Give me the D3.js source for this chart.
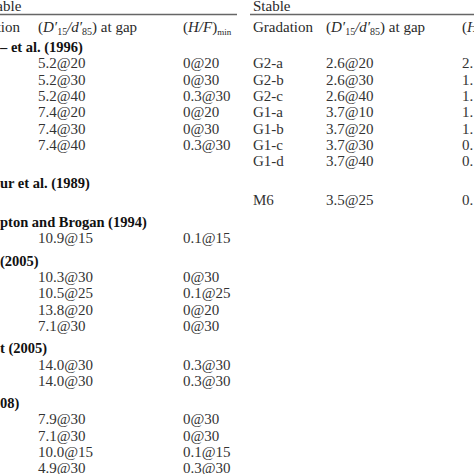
<!DOCTYPE html>
<html><head><meta charset="utf-8">
<script src="https://cdn.jsdelivr.net/npm/d3@7"></script>
<style>body{margin:0;background:#fff}</style></head>
<body><svg id="c" width="474" height="474"></svg>
<script>
const rowKinds   = ["h","r","r","r","r","r","r","r","h","r","h","r","h","r","r","r","r","h","r","r","h","r","r","r","r"];
const headings   = ["– et al. (1996)","ur et al. (1989)","pton and Brogan (1994)","(2005)","t (2005)","08)"];
const leftVals   = ["5.2@20","5.2@30","5.2@40","7.4@20","7.4@30","7.4@40","","","10.9@15","10.3@30","10.5@25","13.8@20","7.1@30","14.0@30","14.0@30","7.9@30","7.1@30","10.0@15","4.9@30"];
const leftHF     = ["0@20","0@30","0.3@30","0@20","0@30","0.3@30","","","0.1@15","0@30","0.1@25","0@20","0@30","0.3@30","0.3@30","0@30","0@30","0.1@15","0.3@30"];
const rightGrad  = ["G2-a","G2-b","G2-c","G1-a","G1-b","G1-c","G1-d","M6"];
const rightVals  = ["2.6@20","2.6@30","2.6@40","3.7@10","3.7@20","3.7@30","3.7@40","3.5@25"];
const rightHF    = ["2.","1.","1.","1.","1.","0.","0.","0."];

const svg = d3.select("#c");
const font = "'Liberation Serif','Times New Roman',serif";
const col = "#2a2a2a";
const FS = 15;

let pos = [], acc = 0;
rowKinds.forEach((k,i)=>{ if(i>0){ acc += 1; if(k==="h") acc += 0.37; } pos.push(acc); });
const y = d3.scaleLinear().domain([0,1]).range([47,63.3]);

svg.append("text").attr("x",-32).attr("y",11).attr("font-family",font).attr("font-size",FS).attr("fill",col).text("Unstable");
svg.append("text").attr("x",253).attr("y",11).attr("font-family",font).attr("font-size",FS).attr("fill",col).text("Stable");
svg.append("line").attr("x1",0).attr("x2",237).attr("y1",14.5).attr("y2",14.5).attr("stroke","#666").attr("stroke-width",1.3);
svg.append("line").attr("x1",250).attr("x2",474).attr("y1",14.5).attr("y2",14.5).attr("stroke","#666").attr("stroke-width",1.3);

function header(x){
  return svg.append("text").attr("x",x).attr("y",32).attr("font-family",font).attr("font-size",FS).attr("fill",col);
}
function dHeader(x){
  const t = header(x);
  t.append("tspan").text("(");
  t.append("tspan").attr("font-style","italic").text("D′");
  t.append("tspan").attr("font-size",10).attr("dy",3).text("15");
  t.append("tspan").attr("dy",-3).attr("font-style","italic").text("/d′");
  t.append("tspan").attr("font-size",10).attr("dy",3).text("85");
  t.append("tspan").attr("dy",-3).text(") at gap");
}
function hfHeader(x){
  const t = header(x);
  t.append("tspan").text("(");
  t.append("tspan").attr("font-style","italic").text("H/F");
  t.append("tspan").text(")");
  t.append("tspan").attr("font-size",9).attr("dy",3).text("min");
}
header(-40).text("Gradation");
dHeader(38); hfHeader(183);
header(253).text("Gradation");
dHeader(326); hfHeader(462);

let hi=0, ri=0;
const cells=[];
rowKinds.forEach((k,i)=>{
  const yy = y(pos[i])+5;
  if(k==="h"){ cells.push({x:0,y:yy,t:headings[hi++],b:true}); }
  else {
    cells.push({x:38,y:yy,t:leftVals[ri]});
    cells.push({x:183,y:yy,t:leftHF[ri]});
    ri++;
  }
});
const rightRowIdx = [1,2,3,4,5,6,7,9];
rightRowIdx.forEach((ri2,j)=>{
  const yy = y(pos[ri2])+5;
  cells.push({x:253,y:yy,t:rightGrad[j]});
  cells.push({x:326,y:yy,t:rightVals[j]});
  cells.push({x:462,y:yy,t:rightHF[j]});
});
svg.selectAll("text.cell").data(cells).join("text").attr("class","cell")
  .attr("x",d=>d.x).attr("y",d=>d.y).attr("font-family",font).attr("font-size",d=>d.b?14.5:FS)
  .attr("font-weight",d=>d.b?"bold":"normal").attr("fill",d=>d.b?"#111":"#333").text(d=>d.t);
</script></body></html>
